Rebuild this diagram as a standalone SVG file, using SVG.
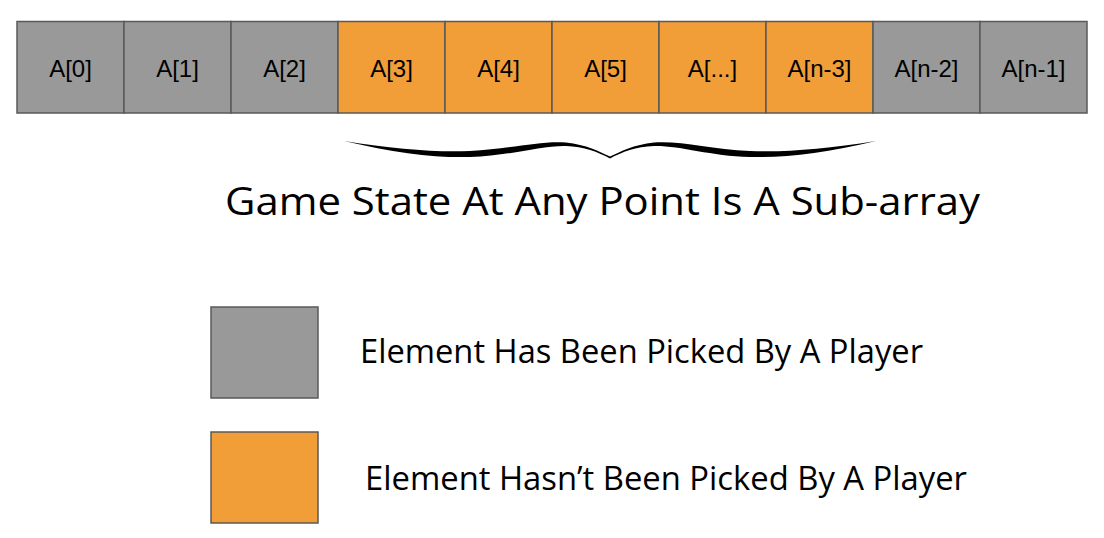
<svg xmlns="http://www.w3.org/2000/svg" width="1104" height="538" viewBox="0 0 1104 538">
<style>
.cell{stroke:#595959;stroke-width:1.5}
.gray{fill:#999999}
.orange{fill:#f29e38}
.ct{font-family:"Liberation Sans",Arial,sans-serif;font-size:24px;fill:#000;text-anchor:middle}
.ht{font-family:"Open Sans","DejaVu Sans",sans-serif;fill:#000}
</style>
<rect width="1104" height="538" fill="#ffffff"/>
<g id="array">
<g id="cell0"><rect class="cell gray" x="17" y="21.5" width="107" height="91.5"/><text class="ct" x="70.5" y="77">A[0]</text></g>
<g id="cell1"><rect class="cell gray" x="124" y="21.5" width="107" height="91.5"/><text class="ct" x="177.5" y="77">A[1]</text></g>
<g id="cell2"><rect class="cell gray" x="231" y="21.5" width="107" height="91.5"/><text class="ct" x="284.5" y="77">A[2]</text></g>
<g id="cell3"><rect class="cell orange" x="338" y="21.5" width="107" height="91.5"/><text class="ct" x="391.5" y="77">A[3]</text></g>
<g id="cell4"><rect class="cell orange" x="445" y="21.5" width="107" height="91.5"/><text class="ct" x="498.5" y="77">A[4]</text></g>
<g id="cell5"><rect class="cell orange" x="552" y="21.5" width="107" height="91.5"/><text class="ct" x="605.5" y="77">A[5]</text></g>
<g id="cell6"><rect class="cell orange" x="659" y="21.5" width="107" height="91.5"/><text class="ct" x="712.5" y="77">A[...]</text></g>
<g id="cell7"><rect class="cell orange" x="766" y="21.5" width="107" height="91.5"/><text class="ct" x="819.5" y="77">A[n-3]</text></g>
<g id="cell8"><rect class="cell gray" x="873" y="21.5" width="107" height="91.5"/><text class="ct" x="926.5" y="77">A[n-2]</text></g>
<g id="cell9"><rect class="cell gray" x="980" y="21.5" width="107" height="91.5"/><text class="ct" x="1033.5" y="77">A[n-1]</text></g>
</g>
<g id="brace">
<path fill="#000" d="M344,141 C395,149 435,152.5 470,151 C510,149 540,140.5 566,142.5 C586,144.5 600,152 610,156.5 C620,152 634,144.5 654,142.5 C680,140.5 710,149 750,151 C785,152.5 825,149 876,141 C825,153 785,158 750,157 C710,156 680,145.5 654,146 C636,146.5 622,152 610,158.5 C598,152 584,146.5 566,146 C540,145.5 510,156 470,157 C435,158 395,153 344,141 Z"/>
</g>
<g id="title"><text class="ht" x="225" y="215" font-size="38" textLength="755" lengthAdjust="spacingAndGlyphs">Game State At Any Point Is A Sub-array</text></g>
<g id="legend-picked">
<rect class="cell gray" x="211" y="307" width="107" height="91"/>
<text class="ht" x="360" y="363" font-size="33" textLength="563" lengthAdjust="spacingAndGlyphs">Element Has Been Picked By A Player</text>
</g>
<g id="legend-unpicked">
<rect class="cell orange" x="211" y="432" width="107" height="91"/>
<text class="ht" x="365" y="490" font-size="33" textLength="602" lengthAdjust="spacingAndGlyphs">Element Hasn’t Been Picked By A Player</text>
</g>
</svg>
